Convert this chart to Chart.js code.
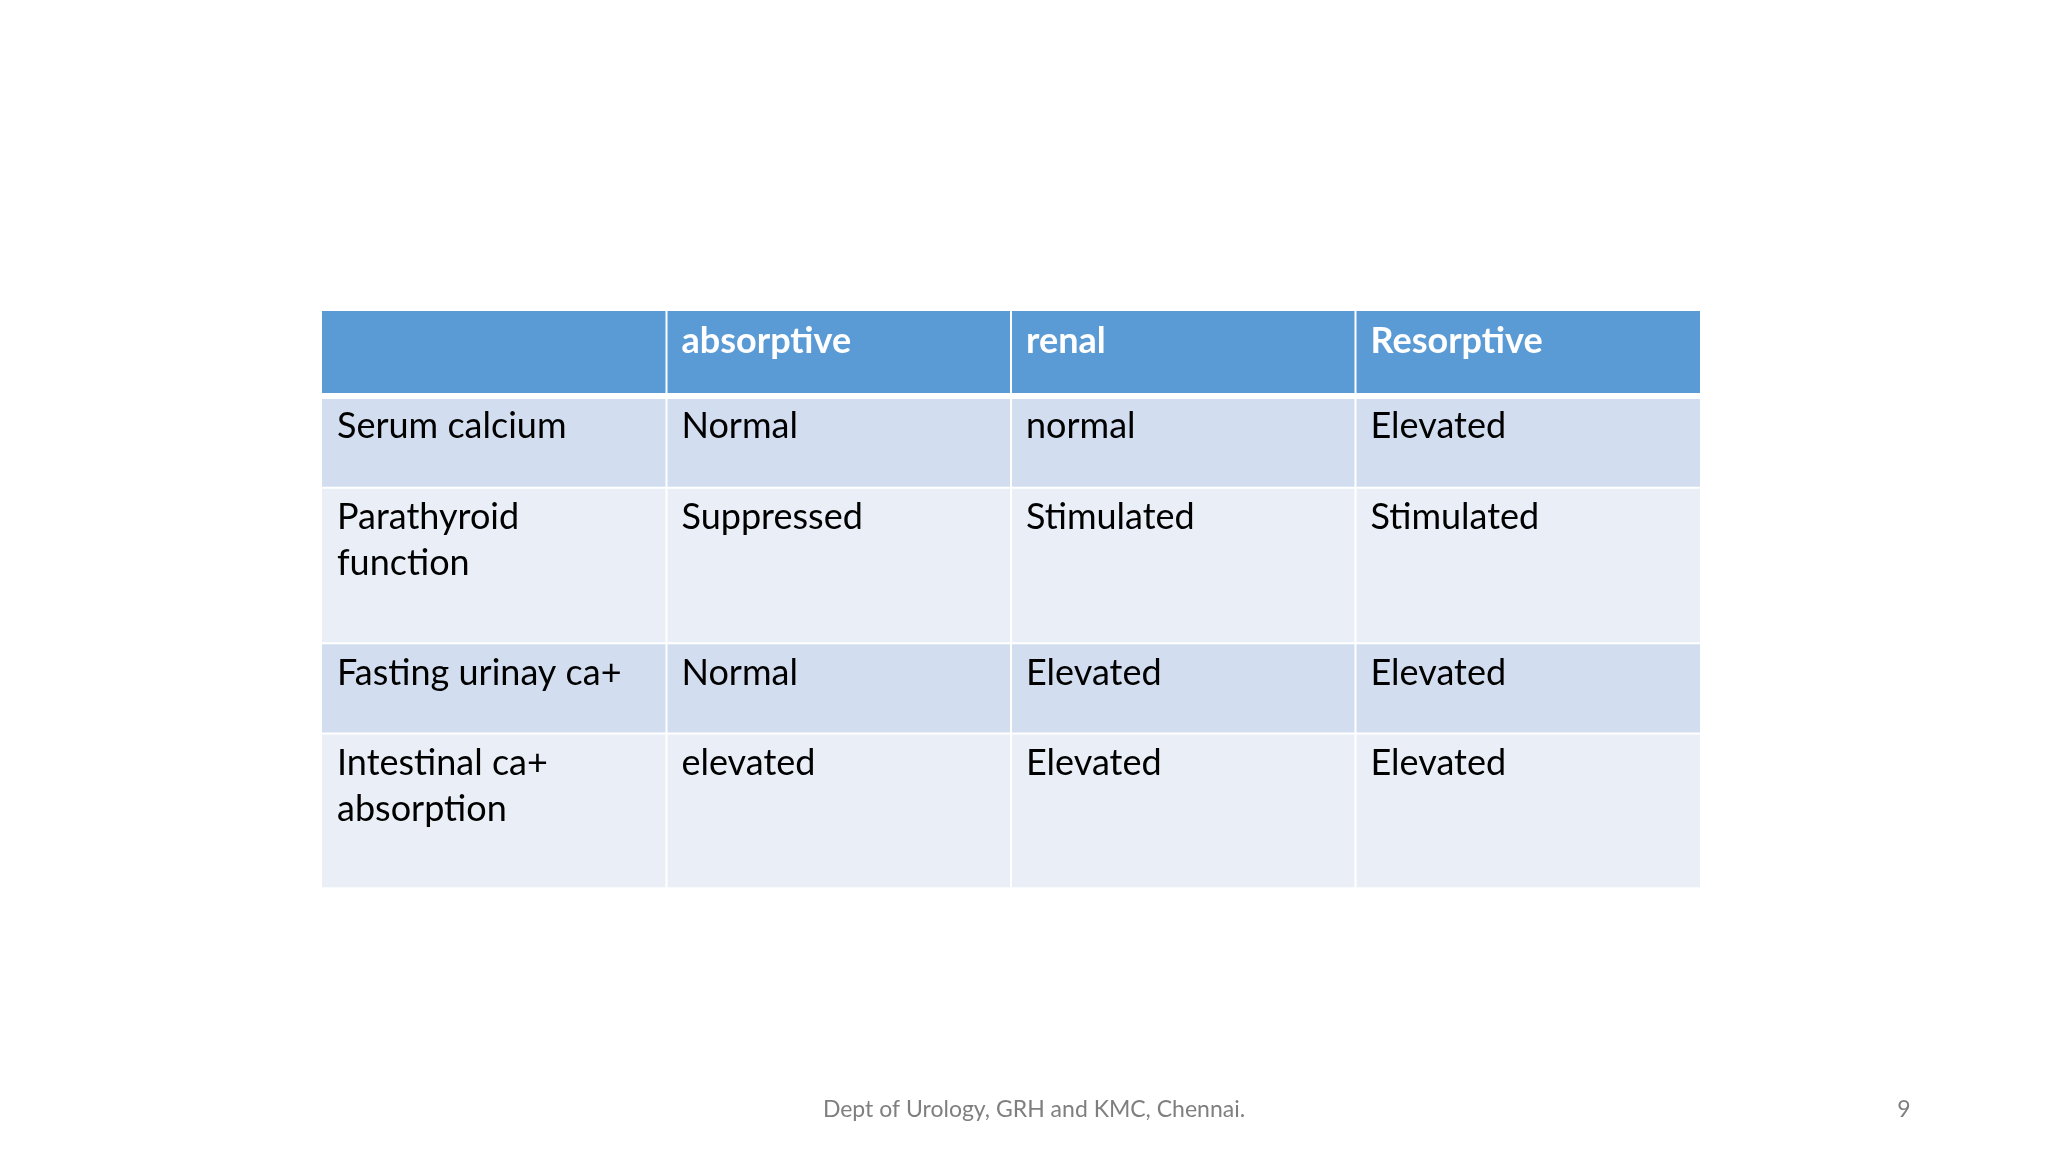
<!DOCTYPE html>
<html><head><meta charset="utf-8">
<script src="https://cdn.jsdelivr.net/npm/chart.js@4"></script>
<style>html,body{margin:0;padding:0;background:#fff}canvas{display:block}</style>
</head><body>
<div style="width:2048px;height:1152px"><canvas id="c"></canvas></div>
<script>
const headers = ["", "absorptive", "renal", "Resorptive"];
const rowLabels = [["Serum calcium"], ["Parathyroid", "function"], ["Fasting urinay ca+"], ["Intestinal ca+", "absorption"]];
const absorptive = ["Normal", "Suppressed", "Normal", "elevated"];
const renal = ["normal", "Stimulated", "Elevated", "Elevated"];
const resorptive = ["Elevated", "Stimulated", "Elevated", "Elevated"];
const rowUnits = [1, 1.08, 1.83, 1.06, 1.81]; // header + rows, relative heights
const footer = "Dept of Urology, GRH and KMC, Chennai.";
const pageNo = "9";

const FONT = "Lato, 'Open Sans', sans-serif";
const tablePlugin = {
  id: 'table',
  afterDraw(chart) {
    const ctx = chart.ctx, xs = chart.scales.x, ys = chart.scales.y;
    const cols = [rowLabels.map(r => r), absorptive.map(v => [v]), renal.map(v => [v]), resorptive.map(v => [v])];
    let bounds = [0];
    rowUnits.forEach(u => bounds.push(bounds[bounds.length - 1] + u));
    ctx.save();
    for (let r = 0; r < rowUnits.length; r++) {
      const y0 = ys.getPixelForValue(bounds[r]), y1 = ys.getPixelForValue(bounds[r + 1]);
      for (let c = 0; c < 4; c++) {
        const x0 = xs.getPixelForValue(c), x1 = xs.getPixelForValue(c + 1);
        ctx.fillStyle = r === 0 ? '#5B9BD5' : (r % 2 ? '#D2DEEF' : '#EAEFF7');
        ctx.fillRect(x0, y0, x1 - x0, y1 - y0);
        const lines = r === 0 ? [headers[c]] : cols[c][r - 1];
        ctx.fillStyle = r === 0 ? '#fff' : '#000';
        ctx.font = (r === 0 ? 'bold ' : '') + '36px ' + FONT;
        ctx.textBaseline = 'top';
        lines.forEach((t, i) => ctx.fillText(t, x0 + 15, y0 + 12 + i * 46));
      }
    }
    ctx.strokeStyle = '#fff';
    for (let c = 1; c < 4; c++) {
      const x = xs.getPixelForValue(c);
      ctx.lineWidth = 2;
      ctx.beginPath(); ctx.moveTo(x, ys.getPixelForValue(0)); ctx.lineTo(x, ys.getPixelForValue(bounds[bounds.length - 1])); ctx.stroke();
    }
    for (let r = 1; r < rowUnits.length; r++) {
      const y = ys.getPixelForValue(bounds[r]);
      ctx.lineWidth = r === 1 ? 6 : 2;
      ctx.beginPath(); ctx.moveTo(xs.getPixelForValue(0), y); ctx.lineTo(xs.getPixelForValue(4), y); ctx.stroke();
    }
    ctx.fillStyle = '#7f7f7f';
    ctx.font = '23px ' + FONT;
    ctx.textBaseline = 'middle';
    ctx.textAlign = 'center';
    ctx.fillText(footer, 1034, 1110);
    ctx.fillText(pageNo, 1904, 1110);
    ctx.restore();
  }
};

new Chart(document.getElementById('c'), {
  type: 'scatter',
  data: { datasets: [] },
  options: {
    responsive: true, maintainAspectRatio: false, animation: false,
    layout: { padding: 0 },
    plugins: { legend: { display: false }, tooltip: { enabled: false } },
    scales: {
      x: { type: 'linear', display: false, min: -0.9347, max: 5.0102 },
      y: { type: 'linear', display: false, reverse: true, min: -311 / 85 * 1, max: (1152 - 311) / 85 }
    }
  },
  plugins: [tablePlugin]
});
</script>
</body></html>
